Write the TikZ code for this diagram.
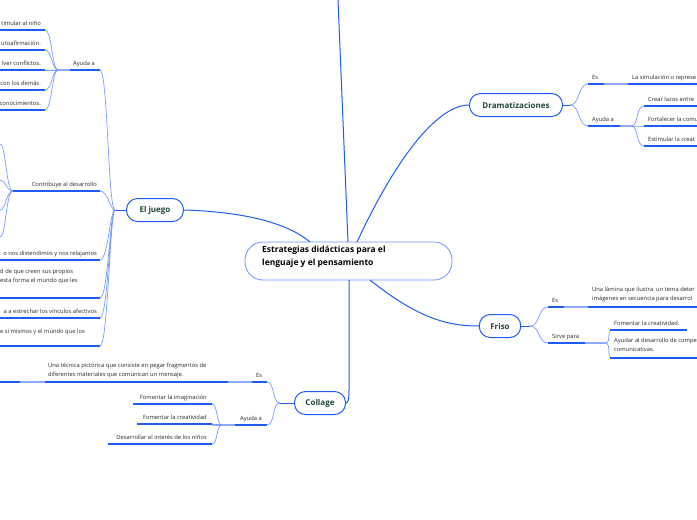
\documentclass[tikz,border=0pt]{standalone}
\usepackage{fontspec}
\setmainfont{Open Sans}
\definecolor{mb}{HTML}{1F5BF5}
\definecolor{lb}{HTML}{8FAAFF}
\definecolor{tg}{HTML}{1E4632}
\begin{document}
\begin{tikzpicture}[x=1pt,y=-1pt,
  ul/.style={draw=mb,line width=1.3pt},
  lul/.style={draw=lb,line width=1.3pt},
  br/.style={draw=lb!80!mb,line width=0.7pt},
  mbl/.style={draw=mb,line width=1pt},
  leaf/.style={font=\fontsize{5.8}{8.5}\selectfont,inner sep=0pt,text=black!85},
  leafr/.style={leaf,anchor=base east},
  leafl/.style={leaf,anchor=base west},
  topic/.style={draw=mb,line width=1pt,rounded corners=11pt,font=\bfseries\fontsize{8}{9}\selectfont,text=tg,minimum height=23pt,inner xsep=13pt}]
\useasboundingbox (0,0) rectangle (697,520);
\clip (0,0) rectangle (697,520);
% central
\node[draw=lb!70!mb,line width=0.8pt,rounded corners=18pt,minimum width=207pt,minimum height=38pt,font=\bfseries\fontsize{8.5}{13}\selectfont,text=black] (c) at (348.5,261) {};
\node[anchor=north west,inner sep=0pt,align=left,font=\bfseries\fontsize{8.5}{13}\selectfont] (ct) at (262,246) {Estrategias didácticas para el\\lenguaje y el pensamiento};
\node[topic] (j) at (155,210) {El juego};
\node[topic] (d) at (516,105) {Dramatizaciones};
\node[topic,inner xsep=11pt] (f) at (500,326) {Friso};
\node[topic,inner xsep=11pt] (k) at (320,403) {Collage};
% main links
\coordinate (top) at (338,0);
\draw[mbl] (j.east) .. controls (250,212) and (290,225) .. (310,242);
\draw[mbl] (357,242) .. controls (400,150) and (440,105) .. (d.west);
\draw[mbl] (370,280) .. controls (420,320) and (450,326) .. (f.west);
\draw[mbl] (top) -- (348,242);
\draw[mbl] (349,280) -- (349,390) .. controls (349,400) and (348,403) .. (k.east);
% El juego branches
\coordinate (jb) at (115,210);
\draw[mbl] (j.west) -- (jb);
\foreach \y in {191,260,298,318,346}{\draw[br] (jb) .. controls (110,210) and (108,\y) .. (100,\y);}
\draw[br] (jb) .. controls (108,210) and (108,72) .. (100,70);
\draw[ul] (25,191) -- (100,191);
\node[leafr] (j1) at (97,186) {Contribuye al desarrollo};
\draw[ul] (0,260) -- (100,260);
\node[leafr] (j2) at (97,255) {o nos distendimos y nos relajamos};
\draw[ul] (0,298) -- (100,298);
\node[leaf,anchor=north west,align=left] (j3) at (0,269) {d de que creen sus propios\\esta forma el mundo que les};
\draw[ul] (0,318) -- (100,318);
\node[leafr] (j4) at (97,313) {a a estrechar los vínculos afectivos};
\draw[ul] (0,346) -- (100,346);
\node[leafl] (j5) at (0,333) {e si mismos y el mundo que los};
% Contribuye children
\coordinate (cb) at (13,191);
\draw[ul] (cb) -- (25,191);
\foreach \y in {144,180,210,237}{\draw[br] (cb) .. controls (6,191) and (6,\y) .. (0,\y);}
% Ayuda a (juego)
\draw[ul] (70,70) -- (100,70);
\node[leafr] (ja) at (95,65) {Ayuda a};
\coordinate (ab) at (58,70);
\draw[lul] (ab) -- (70,70);
\foreach \y/\t in {30/timular al niño,50/utoafirmación.,70/lver conflictos.,90/con los demás.,110/conocimientos.}{
  \draw[br] (ab) .. controls (52,70) and (52,\y) .. (45,\y);
  \draw[ul] (0,\y) -- (45,\y);
  \node[leafr] at (41,\y-5) {\t};}
% Dramatizaciones
\coordinate (db) at (570,105);
\draw[mbl] (d.east) -- (db);
\draw[br] (db) .. controls (580,105) and (578,84) .. (588,84);
\draw[br] (db) .. controls (580,105) and (578,126) .. (588,126);
\draw[ul] (588,84) -- (604,84); \draw[lul] (604,84) -- (628,84); \draw[ul] (628,84) -- (697,84);
\node[leafl] (de) at (592,79) {Es};
\node[leafl] (ds) at (632,79) {La simulación o represe};
\draw[ul] (588,126) -- (620,126); \draw[lul] (620,126) -- (632,126);
\node[leafl] (da) at (592,121) {Ayuda a};
\coordinate (dab) at (632,126);
\foreach \y/\t in {106/Crear lazos entre,126/Fortalecer la comu,146/Estimular la creat}{
  \draw[br] (dab) .. controls (638,126) and (636,\y) .. (644,\y);
  \draw[ul] (644,\y) -- (697,\y);
  \node[leafl] at (648,\y-5) {\t};}
% Friso
\coordinate (fb) at (530,326);
\draw[mbl] (f.east) -- (fb);
\draw[br] (fb) .. controls (540,326) and (538,307) .. (548,307);
\draw[br] (fb) .. controls (540,326) and (538,343) .. (548,343);
\draw[ul] (548,307) -- (564,307); \draw[lul] (564,307) -- (588,307); \draw[ul] (588,307) -- (697,307);
\node[leafl] (fe) at (552,302) {Es};
\node[leaf,anchor=north west,align=left] (fd) at (592,287) {Una lámina que ilustra \ un tema deter\\imágenes en secuencia para desarrol};
\draw[ul] (548,343) -- (585,343); \draw[lul] (585,343) -- (605,343);
\node[leafl] (fs) at (552,338) {Sirve para};
\coordinate (fsb) at (605,343);
\draw[br] (fsb) .. controls (612,343) and (606,330) .. (612,330);
\draw[br] (fsb) .. controls (612,343) and (606,358) .. (612,358);
\draw[ul] (610,330) -- (687,330);
\node[leafl] (f1) at (614,325) {Fomentar la creatividad.};
\draw[ul] (610,358) -- (697,358);
\node[leaf,anchor=north west,align=left] (f2) at (614,338) {Ayudar al desarrollo de compe\\comunicativas.};
% Collage
\coordinate (kb) at (280,403);
\draw[mbl] (k.west) -- (kb);
\draw[br] (kb) .. controls (272,403) and (275,382) .. (267,382);
\draw[br] (kb) .. controls (272,403) and (275,425) .. (267,425);
\draw[ul] (252,382) -- (267,382); \draw[lul] (228,382) -- (252,382);
\node[leafl] (ke) at (256,377) {Es};
\draw[ul] (45,382) -- (228,382); \draw[lul] (20,382) -- (45,382); \draw[ul] (0,382) -- (20,382);
\node[leaf,anchor=north west,align=left] (kd) at (48,363) {Una técnica pictórica que consiste en pegar fragmentos de\\diferentes materiales que comunican un mensaje.};
\draw[ul] (235,425) -- (267,425); \draw[lul] (212,425) -- (235,425);
\node[leafl] (ka) at (240,420) {Ayuda a};
\coordinate (kab) at (222,425);
\foreach \y/\a/\t in {404/133/Fomentar la imaginación,424/137/Fomentar la creatividad,444/108/Desarrollar el interés de los niños}{
  \draw[br] (kab) .. controls (216,425) and (218,\y) .. (212,\y);
  \draw[ul] (\a,\y) -- (212,\y);
  \node[leafr] at (207,\y-5) {\t};}
\end{tikzpicture}
\end{document}
